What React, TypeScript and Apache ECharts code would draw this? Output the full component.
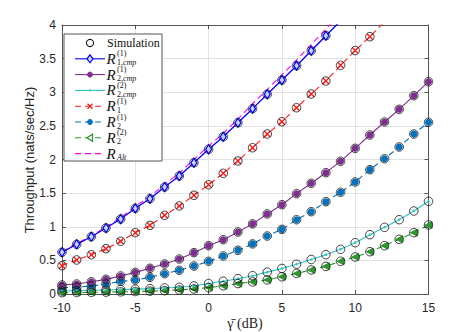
import React, { useEffect, useRef } from "react";
import * as echarts from "echarts";

const snr = [-10, -9, -8, -7, -6, -5, -4, -3, -2, -1, 0, 1, 2, 3, 4, 5, 6, 7, 8, 9, 10, 11, 12, 13, 14, 15];

const r1cmp1 = [0.62, 0.739, 0.852, 0.981, 1.115, 1.274, 1.417, 1.591, 1.755, 1.952, 2.152, 2.339, 2.547, 2.756, 2.97, 3.182, 3.395, 3.618, 3.841, 4.06];
const r2cmp1 = [0.134, 0.149, 0.183, 0.218, 0.268, 0.322, 0.382, 0.446, 0.52, 0.615, 0.719, 0.808, 0.922, 1.043, 1.19, 1.328, 1.492, 1.646, 1.804, 1.973, 2.166, 2.364, 2.558, 2.746, 2.949, 3.157];
const r2cmp2 = [0.045, 0.05, 0.055, 0.06, 0.065, 0.072, 0.08, 0.09, 0.1, 0.12, 0.155, 0.19, 0.228, 0.272, 0.325, 0.38, 0.443, 0.513, 0.585, 0.664, 0.763, 0.882, 0.991, 1.105, 1.234, 1.378];
const r11 = [0.421, 0.506, 0.584, 0.674, 0.784, 0.912, 1.021, 1.17, 1.309, 1.468, 1.625, 1.795, 1.978, 2.175, 2.379, 2.562, 2.77, 2.974, 3.167, 3.4, 3.62, 3.826, 4.05];
const r21 = [0.094, 0.1, 0.119, 0.149, 0.189, 0.208, 0.248, 0.302, 0.352, 0.416, 0.486, 0.565, 0.65, 0.745, 0.862, 0.961, 1.105, 1.224, 1.373, 1.512, 1.665, 1.849, 2.012, 2.186, 2.379, 2.553];
const r22 = [0.02, 0.022, 0.025, 0.028, 0.032, 0.037, 0.043, 0.05, 0.06, 0.075, 0.095, 0.122, 0.155, 0.18, 0.21, 0.256, 0.305, 0.357, 0.411, 0.486, 0.55, 0.629, 0.719, 0.813, 0.912, 1.026];
const rAlt = [0.63, 0.75, 0.865, 0.995, 1.135, 1.305, 1.45, 1.63, 1.8, 2.0, 2.2, 2.39, 2.6, 2.83, 3.04, 3.26, 3.48, 3.71, 3.94, 4.17];

const xTicks = [-10, -5, 0, 5, 10, 15];
const yTicks = [0, 0.5, 1, 1.5, 2, 2.5, 3, 3.5, 4];

const C = {
  blue: "#0000ff",
  purple: "#7E2F8E",
  cyan: "#2ec4c0",
  red: "#ff1a1a",
  steel: "#0072BD",
  green: "#2E962E",
  magenta: "#ff00ff",
};

const SERIF = "'Liberation Serif', 'DejaVu Serif', serif";
const SANS = "'Liberation Sans', Arial, sans-serif";

const xSym = "path://M0,0 L10,10 M10,0 L0,10";
const triLeft = "path://M0,5 L9,0 L9,10 Z";

function pairs(v: number[]) {
  return v.map((y, i) => [snr[i], y]);
}

export default function App() {
  const ref = useRef<HTMLDivElement>(null);
  useEffect(() => {
    if (!ref.current) return;
    const chart = echarts.init(ref.current, undefined, { renderer: "svg" });

    const simData: number[][] = [];
    [r1cmp1, r2cmp1, r2cmp2, r11, r21, r22].forEach((arr) =>
      arr.forEach((y, i) => {
        if (y <= 4) simData.push([snr[i], y]);
      })
    );

    const lineSeries = (
      name: string,
      data: number[],
      color: string,
      dashed: boolean,
      symbol: string,
      symbolSize: any,
      itemStyle: any,
      width = 1.1
    ) => ({
      type: "line",
      name,
      data: pairs(data),
      clip: true,
      symbol,
      symbolSize,
      showSymbol: symbol !== "none",
      lineStyle: { color, width, type: dashed ? [6, 4] : "solid" },
      itemStyle,
      z: 3,
    });

    const rows = [
      { key: "sim" },
      { sup: "(1)", sub: [["1,", "n"], ["cmp", "i"]], color: C.blue, dashed: false, mk: "diamond" },
      { sup: "(1)", sub: [["2,", "n"], ["cmp", "i"]], color: C.purple, dashed: false, mk: "dot" },
      { sup: "(2)", sub: [["2,", "n"], ["cmp", "i"]], color: C.cyan, dashed: false, mk: "small" },
      { sup: "(1)", sub: [["1", "n"]], color: C.red, dashed: true, mk: "x" },
      { sup: "(1)", sub: [["2", "n"]], color: C.steel, dashed: true, mk: "dot" },
      { sup: "(2)", sub: [["2", "n"]], color: C.green, dashed: true, mk: "tri" },
      { sup: "", sub: [["Alt", "i"]], color: C.magenta, dashed: true, mk: "none" },
    ] as any[];

    const lg: any[] = [];
    lg.push({
      type: "rect",
      shape: { x: 64, y: 34, width: 98, height: 127 },
      style: { fill: "#fff", stroke: "#555", lineWidth: 1 },
      z: 10,
    });
    rows.forEach((r, i) => {
      const y = 43 + i * 15.8;
      if (r.key === "sim") {
        lg.push({ type: "circle", shape: { cx: 90, cy: y, r: 3.6 }, style: { fill: "none", stroke: "#111", lineWidth: 1.1 }, z: 11 });
        lg.push({
          type: "text",
          x: 107,
          y,
          style: { text: "Simulation", font: `12px ${SERIF}`, fill: "#111", textVerticalAlign: "middle" },
          z: 11,
        });
        return;
      }
      lg.push({
        type: "line",
        shape: { x1: 75, y1: y, x2: 105, y2: y },
        style: { stroke: r.color, lineWidth: 1.1, lineDash: r.dashed ? [6, 4] : null },
        z: 11,
      });
      if (r.mk === "diamond") {
        lg.push({ type: "polygon", shape: { points: [[90, y - 4], [93, y], [90, y + 4], [87, y]] }, style: { fill: "#cfd8ff", stroke: r.color, lineWidth: 1.2 }, z: 12 });
      } else if (r.mk === "dot") {
        lg.push({ type: "circle", shape: { cx: 90, cy: y, r: 2.5 }, style: { fill: r.color, stroke: r.color }, z: 12 });
      } else if (r.mk === "small") {
        lg.push({ type: "circle", shape: { cx: 90, cy: y, r: 1 }, style: { fill: r.color }, z: 12 });
      } else if (r.mk === "x") {
        lg.push({ type: "line", shape: { x1: 87.5, y1: y - 2.5, x2: 92.5, y2: y + 2.5 }, style: { stroke: r.color, lineWidth: 1.3 }, z: 12 });
        lg.push({ type: "line", shape: { x1: 92.5, y1: y - 2.5, x2: 87.5, y2: y + 2.5 }, style: { stroke: r.color, lineWidth: 1.3 }, z: 12 });
      } else if (r.mk === "tri") {
        lg.push({ type: "polygon", shape: { points: [[87, y], [92.5, y - 3.5], [92.5, y + 3.5]] }, style: { fill: "#fff", stroke: r.color, lineWidth: 1.3 }, z: 12 });
      }
      lg.push({
        type: "text",
        x: 106.5,
        y: y,
        style: { text: "R", font: `italic 15px ${SERIF}`, fill: "#111", textVerticalAlign: "middle", lineHeight: 11 },
        z: 11,
      });
      if (r.sup) {
        lg.push({
          type: "text",
          x: 117,
          y: y - 5,
          style: { text: r.sup, font: `8px ${SERIF}`, fill: "#111", textVerticalAlign: "middle", lineHeight: 7 },
          z: 11,
        });
      }
      const subTxt = r.sub.map((p: string[]) => `{${p[1]}|${p[0]}}`).join("");
      lg.push({
        type: "text",
        x: 117,
        y: r.sup ? y + 4 : y + 3.5,
        style: {
          text: subTxt,
          fill: "#111",
          textVerticalAlign: "middle",
          lineHeight: 7,
          rich: {
            n: { font: `8px ${SERIF}`, fill: "#111", lineHeight: 7 },
            i: { font: `italic 8px ${SERIF}`, fill: "#111", lineHeight: 7 },
          },
        },
        z: 11,
      });
    });

    lg.push({
      type: "text",
      x: 29,
      y: 160,
      rotation: Math.PI / 2,
      style: { text: "Throughput (nats/sec/Hz)", font: `13px ${SANS}`, fill: "#262626", textAlign: "center", textVerticalAlign: "middle" },
    });
    lg.push({
      type: "text",
      x: 245,
      y: 323,
      style: { text: "\u03B3\u0304 (dB)", font: `14px ${SERIF}`, fill: "#262626", textAlign: "center", textVerticalAlign: "middle" },
    });

    const axisCommon = {
      axisLine: { show: true, onZero: false, lineStyle: { color: "#555", width: 1 } },
      axisTick: { show: true, inside: true, length: 4, lineStyle: { color: "#555" } },
    };

    chart.setOption({
      animation: false,
      backgroundColor: "#fff",
      grid: { left: 62, right: 45.5, top: 25, bottom: 38, containLabel: false },
      xAxis: [
        {
          type: "value",
          min: xTicks[0],
          max: xTicks[xTicks.length - 1],
          interval: 5,
          ...axisCommon,
          axisLabel: { color: "#262626", fontSize: 12, fontFamily: SANS, margin: 8 },
          splitLine: { show: true, lineStyle: { color: "#e3e3e3", width: 1 } },
        },
        {
          type: "value",
          position: "top",
          min: xTicks[0],
          max: xTicks[xTicks.length - 1],
          interval: 5,
          ...axisCommon,
          axisLabel: { show: false },
          splitLine: { show: false },
        },
      ],
      yAxis: [
        {
          type: "value",
          min: yTicks[0],
          max: yTicks[yTicks.length - 1],
          interval: 0.5,
          ...axisCommon,
          axisLabel: { color: "#262626", fontSize: 12, fontFamily: SANS, margin: 6 },
          splitLine: { show: true, lineStyle: { color: "#e3e3e3", width: 1 } },
        },
        {
          type: "value",
          position: "right",
          min: yTicks[0],
          max: yTicks[yTicks.length - 1],
          interval: 0.5,
          ...axisCommon,
          axisLabel: { show: false },
          splitLine: { show: false },
        },
      ],
      series: [
        lineSeries("R_Alt", rAlt, C.magenta, true, "none", 0, {}, 1.1),
        lineSeries("R_2^(2)", r22, C.green, true, triLeft, 7, { color: C.green, borderColor: C.green, borderWidth: 1 }),
        lineSeries("R_2^(1)", r21, C.steel, true, "circle", 7, { color: C.steel, borderColor: C.steel, borderWidth: 0 }),
        lineSeries("R_1^(1)", r11, C.red, true, xSym, 6, { color: "rgba(0,0,0,0)", borderColor: C.red, borderWidth: 1.4 }),
        lineSeries("R_2,cmp^(2)", r2cmp2, C.cyan, false, "circle", 2.5, { color: C.cyan, borderWidth: 0 }),
        lineSeries("R_2,cmp^(1)", r2cmp1, C.purple, false, "circle", 7, { color: C.purple, borderWidth: 0 }),
        lineSeries("R_1,cmp^(1)", r1cmp1, C.blue, false, "diamond", [6, 9], { color: "#c8d0ff", borderColor: C.blue, borderWidth: 1.3 }, 1.3),
        {
          type: "scatter",
          name: "Simulation",
          data: simData,
          clip: true,
          symbol: "circle",
          symbolSize: 8.5,
          itemStyle: { color: "rgba(0,0,0,0)", borderColor: "#111", borderWidth: 1 },
          z: 5,
        },
      ],
      graphic: lg,
    });
    return () => chart.dispose();
  }, []);
  return <div ref={ref} style={{ width: 474, height: 332, position: "absolute", left: 0, top: 0 }} />;
}
